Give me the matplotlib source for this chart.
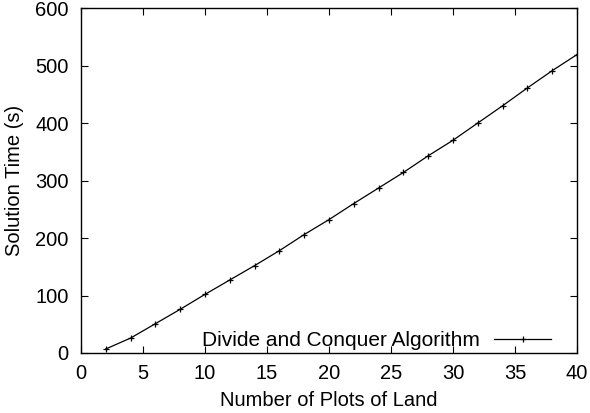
import matplotlib
matplotlib.use('Agg')
import matplotlib.pyplot as plt

plt.rcParams['font.family'] = ['Liberation Sans', 'DejaVu Sans']

# Data
plots = [2, 4, 6, 8, 10, 12, 14, 16, 18, 20, 22, 24, 26, 28, 30, 32, 34, 36, 38, 40]
solve_time = [7, 26, 51, 76, 102, 127, 152, 178, 206, 232,
              260, 287, 314, 343, 370, 400, 430, 461, 491, 519]
x_ticks = [0, 5, 10, 15, 20, 25, 30, 35, 40]
y_ticks = [0, 100, 200, 300, 400, 500, 600]

fig = plt.figure(figsize=(5.9, 4.13), dpi=100)
ax = fig.add_axes([81 / 590, 60 / 413, 496 / 590, 345 / 413])

ax.plot(plots, solve_time, color='black', lw=0.9, marker='+', markersize=5,
        markeredgewidth=0.9, label='Divide and Conquer Algorithm')

ax.set_xlim(0, 40)
ax.set_ylim(0, 600)
ax.set_xticks(x_ticks)
ax.set_yticks(y_ticks)
ax.tick_params(direction='in', top=True, right=True, length=5, width=0.8,
               labelsize=14.5, colors='black')
ax.tick_params(axis='y', pad=9)
ax.tick_params(axis='x', pad=8)
for s in ax.spines.values():
    s.set_linewidth(1.0)

ax.set_xlabel('Number of Plots of Land', fontsize=14.5, labelpad=6)
ax.set_ylabel('Solution Time (s)', fontsize=14.5, labelpad=8)

leg = ax.legend(loc='lower right', frameon=False, fontsize=15,
                markerfirst=False, handlelength=2.75, borderaxespad=0,
                borderpad=0, handletextpad=0.65,
                bbox_to_anchor=(0.948, 0.008))

fig.savefig('out.png', dpi=100)
